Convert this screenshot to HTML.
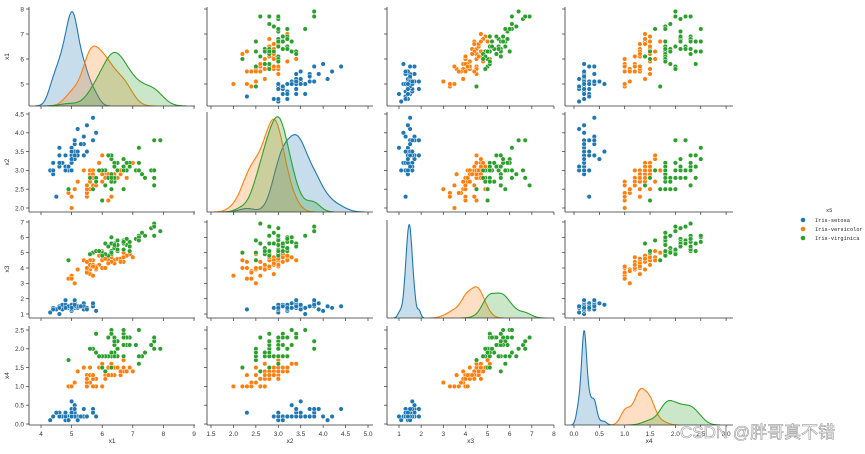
<!DOCTYPE html>
<html><head><meta charset="utf-8">
<style>
body{margin:0;background:#fff;width:865px;height:449px;overflow:hidden}
svg{font-family:"Liberation Sans","Noto Sans CJK SC",sans-serif}
</style></head>
<body>
<svg id="chart" width="865" height="449" viewBox="0 0 865 449">
<g id="plots"></g>
<g font-family="Liberation Mono, monospace" font-size="5.3" fill="#222">
<text x="826" y="212">x5</text>
<circle cx="803" cy="220" r="2.3" fill="#1f77b4"/>
<text x="815" y="222">Iris-setosa</text>
<circle cx="803" cy="229" r="2.3" fill="#ff7f0e"/>
<text x="815" y="231">Iris-versicolor</text>
<circle cx="803" cy="238" r="2.3" fill="#2ca02c"/>
<text x="815" y="240">Iris-virginica</text>
</g>
<text x="680" y="438" font-size="17" fill="#fff" stroke="#999" stroke-width="0.6">CSDN @胖哥真不错</text>
</svg>
<script>
const varNames = ["x1","x2","x3","x4"];
const speciesNames = ["Iris-setosa","Iris-versicolor","Iris-virginica"];
const colors = ["#1f77b4","#ff7f0e","#2ca02c"];
const setosa = [[5.1,3.5,1.4,0.2],[4.9,3.0,1.4,0.2],[4.7,3.2,1.3,0.2],[4.6,3.1,1.5,0.2],[5.0,3.6,1.4,0.2],[5.4,3.9,1.7,0.4],[4.6,3.4,1.4,0.3],[5.0,3.4,1.5,0.2],[4.4,2.9,1.4,0.2],[4.9,3.1,1.5,0.1],[5.4,3.7,1.5,0.2],[4.8,3.4,1.6,0.2],[4.8,3.0,1.4,0.1],[4.3,3.0,1.1,0.1],[5.8,4.0,1.2,0.2],[5.7,4.4,1.5,0.4],[5.4,3.9,1.3,0.4],[5.1,3.5,1.4,0.3],[5.7,3.8,1.7,0.3],[5.1,3.8,1.5,0.3],[5.4,3.4,1.7,0.2],[5.1,3.7,1.5,0.4],[4.6,3.6,1.0,0.2],[5.1,3.3,1.7,0.5],[4.8,3.4,1.9,0.2],[5.0,3.0,1.6,0.2],[5.0,3.4,1.6,0.4],[5.2,3.5,1.5,0.2],[5.2,3.4,1.4,0.2],[4.7,3.2,1.6,0.2],[4.8,3.1,1.6,0.2],[5.4,3.4,1.5,0.4],[5.2,4.1,1.5,0.1],[5.5,4.2,1.4,0.2],[4.9,3.1,1.5,0.1],[5.0,3.2,1.2,0.2],[5.5,3.5,1.3,0.2],[4.9,3.1,1.5,0.1],[4.4,3.0,1.3,0.2],[5.1,3.4,1.5,0.2],[5.0,3.5,1.3,0.3],[4.5,2.3,1.3,0.3],[4.4,3.2,1.3,0.2],[5.0,3.5,1.6,0.6],[5.1,3.8,1.9,0.4],[4.8,3.0,1.4,0.3],[5.1,3.8,1.6,0.2],[4.6,3.2,1.4,0.2],[5.3,3.7,1.5,0.2],[5.0,3.3,1.4,0.2]];
const versicolor = [[7.0,3.2,4.7,1.4],[6.4,3.2,4.5,1.5],[6.9,3.1,4.9,1.5],[5.5,2.3,4.0,1.3],[6.5,2.8,4.6,1.5],[5.7,2.8,4.5,1.3],[6.3,3.3,4.7,1.6],[4.9,2.4,3.3,1.0],[6.6,2.9,4.6,1.3],[5.2,2.7,3.9,1.4],[5.0,2.0,3.5,1.0],[5.9,3.0,4.2,1.5],[6.0,2.2,4.0,1.0],[6.1,2.9,4.7,1.4],[5.6,2.9,3.6,1.3],[6.7,3.1,4.4,1.4],[5.6,3.0,4.5,1.5],[5.8,2.7,4.1,1.0],[6.2,2.2,4.5,1.5],[5.6,2.5,3.9,1.1],[5.9,3.2,4.8,1.8],[6.1,2.8,4.0,1.3],[6.3,2.5,4.9,1.5],[6.1,2.8,4.7,1.2],[6.4,2.9,4.3,1.3],[6.6,3.0,4.4,1.4],[6.8,2.8,4.8,1.4],[6.7,3.0,5.0,1.7],[6.0,2.9,4.5,1.5],[5.7,2.6,3.5,1.0],[5.5,2.4,3.8,1.1],[5.5,2.4,3.7,1.0],[5.8,2.7,3.9,1.2],[6.0,2.7,5.1,1.6],[5.4,3.0,4.5,1.5],[6.0,3.4,4.5,1.6],[6.7,3.1,4.7,1.5],[6.3,2.3,4.4,1.3],[5.6,3.0,4.1,1.3],[5.5,2.5,4.0,1.3],[5.5,2.6,4.4,1.2],[6.1,3.0,4.6,1.4],[5.8,2.6,4.0,1.2],[5.0,2.3,3.3,1.0],[5.6,2.7,4.2,1.3],[5.7,3.0,4.2,1.2],[5.7,2.9,4.2,1.3],[6.2,2.9,4.3,1.3],[5.1,2.5,3.0,1.1],[5.7,2.8,4.1,1.3]];
const virginica = [[6.3,3.3,6.0,2.5],[5.8,2.7,5.1,1.9],[7.1,3.0,5.9,2.1],[6.3,2.9,5.6,1.8],[6.5,3.0,5.8,2.2],[7.6,3.0,6.6,2.1],[4.9,2.5,4.5,1.7],[7.3,2.9,6.3,1.8],[6.7,2.5,5.8,1.8],[7.2,3.6,6.1,2.5],[6.5,3.2,5.1,2.0],[6.4,2.7,5.3,1.9],[6.8,3.0,5.5,2.1],[5.7,2.5,5.0,2.0],[5.8,2.8,5.1,2.4],[6.4,3.2,5.3,2.3],[6.5,3.0,5.5,1.8],[7.7,3.8,6.7,2.2],[7.7,2.6,6.9,2.3],[6.0,2.2,5.0,1.5],[6.9,3.2,5.7,2.3],[5.6,2.8,4.9,2.0],[7.7,2.8,6.7,2.0],[6.3,2.7,4.9,1.8],[6.7,3.3,5.7,2.1],[7.2,3.2,6.0,1.8],[6.2,2.8,4.8,1.8],[6.1,3.0,4.9,1.8],[6.4,2.8,5.6,2.1],[7.2,3.0,5.8,1.6],[7.4,2.8,6.1,1.9],[7.9,3.8,6.4,2.0],[6.4,2.8,5.6,2.2],[6.3,2.8,5.1,1.5],[6.1,2.6,5.6,1.4],[7.7,3.0,6.1,2.3],[6.3,3.4,5.6,2.4],[6.4,3.1,5.5,1.8],[6.0,3.0,4.8,1.8],[6.9,3.1,5.4,2.1],[6.7,3.1,5.6,2.4],[6.9,3.1,5.1,2.3],[5.8,2.7,5.1,1.9],[6.8,3.2,5.9,2.3],[6.7,3.3,5.7,2.5],[6.7,3.0,5.2,2.3],[6.3,2.5,5.0,1.9],[6.5,3.0,5.2,2.0],[6.2,3.4,5.4,2.3],[5.9,3.0,5.1,1.8]];
const groups = [setosa, versicolor, virginica];
const ticksX1 = [4,5,6,7,8,9];
const ticksX2 = [1.5,2.0,2.5,3.0,3.5,4.0,4.5,5.0];
const ticksX3 = [1,2,3,4,5,6,7,8];
const ticksX4 = [0.0,0.5,1.0,1.5,2.0,2.5,3.0];
const ticksY1 = [5,6,7,8];
const ticksY2 = [2.0,2.5,3.0,3.5,4.0,4.5];
const ticksY3 = [1,2,3,4,5,6,7];
const ticksY4 = [0.0,0.5,1.0,1.5,2.0,2.5];
const xTicks = [ticksX1,ticksX2,ticksX3,ticksX4];
const yTicks = [ticksY1,ticksY2,ticksY3,ticksY4];
const xTickFmt=[0,1,0,1], yTickFmt=[0,1,0,1];

const colL=[29,207,387,565], colR=[195,373,554,733];
const rowT=[7,112,220,326], rowB=[106,212,318,425];
const xMap=[v=>41+(v-4)*30.6, v=>211+(v-1.5)*44.86, v=>399+(v-1)*22.14, v=>574+v*50.7];
const yMap=[v=>84-(v-5)*25, v=>208-(v-2)*37.6, v=>314-(v-1)*15.33, v=>424-v*37.6];

const NS="http://www.w3.org/2000/svg";
const root=document.getElementById('plots');
function mk(tag,attrs,parent){const e=document.createElementNS(NS,tag);for(const k in attrs)e.setAttribute(k,attrs[k]);(parent||root).appendChild(e);return e;}

function kde(vals,x,bw){let s=0;for(const v of vals){const z=(x-v)/bw;s+=Math.exp(-0.5*z*z);}return s/(vals.length*bw*Math.sqrt(2*Math.PI));}
function std(a){const m=a.reduce((p,c)=>p+c,0)/a.length;return Math.sqrt(a.reduce((p,c)=>p+(c-m)*(c-m),0)/(a.length-1));}

for(let r=0;r<4;r++){for(let c=0;c<4;c++){
  const g=mk('g',{});
  
  
  const cid='clip'+r+c;
  const cp=mk('clipPath',{id:cid},g);
  mk('rect',{x:colL[c],y:rowT[r],width:colR[c]-colL[c],height:rowB[r]-rowT[r]},cp);
  const inner=mk('g',{'clip-path':'url(#'+cid+')'},g);
  if(r===c){
    const curves=[];let maxD=0;
    groups.forEach((grp,gi)=>{
      const vals=grp.map(d=>d[c]);const bw=std(vals)*Math.pow(vals.length,-0.2);
      const lo=Math.min(...vals)-3*bw, hi=Math.max(...vals)+3*bw;const pts=[];
      for(let i=0;i<=200;i++){const x=lo+(hi-lo)*i/200;const d=kde(vals,x,bw);pts.push([x,d]);if(d>maxD)maxD=d;}
      curves.push(pts);
    });
    const top=maxD*1.05, h=rowB[r]-rowT[r];
    curves.forEach((pts,gi)=>{
      const py=d=>rowB[r]-d/top*h;
      let dl='M'+xMap[c](pts[0][0]).toFixed(1)+','+rowB[r];
      let ll='';
      pts.forEach((p,i)=>{const s=xMap[c](p[0]).toFixed(1)+','+py(p[1]).toFixed(1);dl+='L'+s;ll+=(i?'L':'M')+s;});
      dl+='L'+xMap[c](pts[pts.length-1][0]).toFixed(1)+','+rowB[r]+'Z';
      const f=mk('path',{d:dl,fill:colors[gi],'fill-opacity':0.25},inner);
      
      
      const l=mk('path',{d:ll,fill:'none',stroke:colors[gi],'stroke-width':1.1},inner);
      
      
    });
  } else {
    groups.forEach((grp,gi)=>{grp.forEach(d=>{
      const p=mk('circle',{cx:xMap[c](d[c]).toFixed(1),cy:yMap[r](d[r]).toFixed(1),r:2.3,fill:colors[gi],stroke:'#fff','stroke-width':0.5},inner);
      
      
    });});
  }
  mk('line',{x1:colL[c],y1:rowT[r],x2:colL[c],y2:rowB[r],stroke:'#333','stroke-width':0.8},g);
  mk('line',{x1:colL[c],y1:rowB[r],x2:colR[c],y2:rowB[r],stroke:'#333','stroke-width':0.8},g);
  xTicks[c].forEach(t=>{const x=xMap[c](t);if(x<colL[c]-0.5||x>colR[c]+0.5)return;
    mk('line',{x1:x,y1:rowB[r],x2:x,y2:rowB[r]+3,stroke:'#333','stroke-width':0.7},g);
    if(r===3){const tx=mk('text',{x:x,y:rowB[r]+11,'font-size':6.5,'text-anchor':'middle',fill:'#333'},g);tx.textContent=t.toFixed(xTickFmt[c]);
      
      }
  });
  if(r!==c || c===0){yTicks[r].forEach(t=>{const y=yMap[r](t);if(y<rowT[r]-0.5||y>rowB[r]+0.5)return;
    mk('line',{x1:colL[c]-3,y1:y,x2:colL[c],y2:y,stroke:'#333','stroke-width':0.7},g);
    if(c===0){const ty=mk('text',{x:colL[c]-5,y:y+2.3,'font-size':6.5,'text-anchor':'end',fill:'#333'},g);ty.textContent=t.toFixed(yTickFmt[r]);
      
      }
  });}
}}
for(let i=0;i<4;i++){
  const xt=mk('text',{x:(colL[i]+colR[i])/2,y:443,'font-size':6.5,'text-anchor':'middle',fill:'#333'});xt.textContent=varNames[i];
  
  
  const cy=(rowT[i]+rowB[i])/2;
  const yt=mk('text',{x:9,y:cy,'font-size':6.5,'text-anchor':'middle',fill:'#333',transform:'rotate(-90 9 '+cy+')'});yt.textContent=varNames[i];
  
  
}
</script>
</body></html>
